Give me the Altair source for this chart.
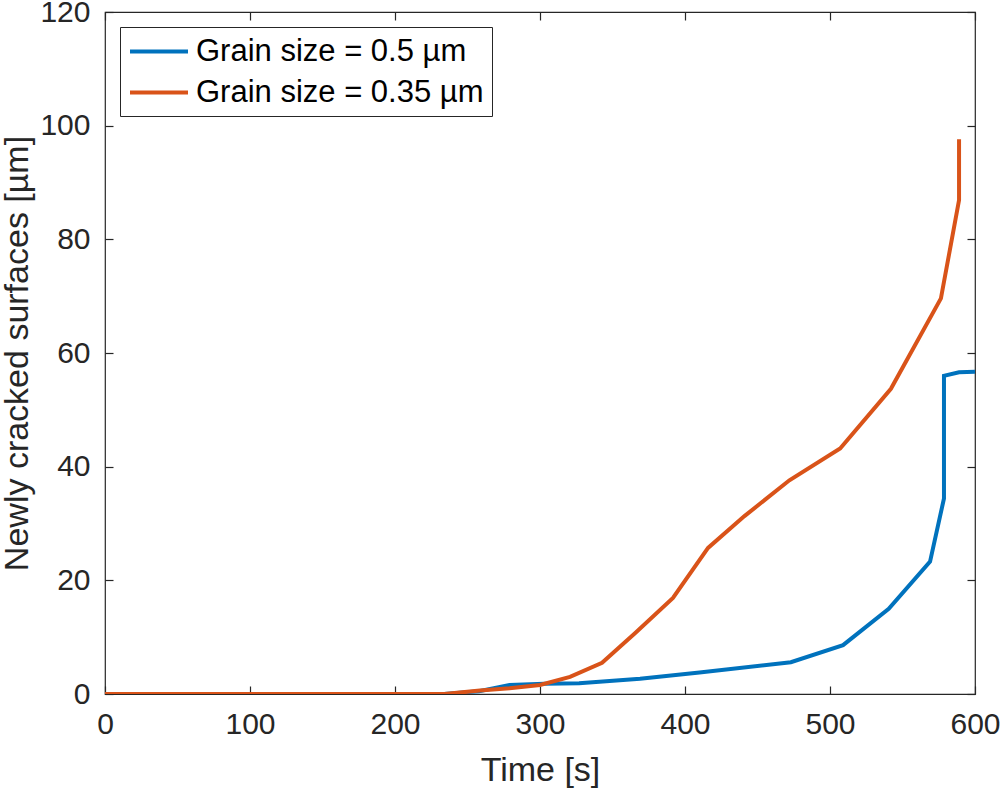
import altair as alt
import pandas as pd

# Grain size = 0.5 µm
t_05 = [0, 234, 258, 279, 303, 327, 369, 410, 473, 509, 540.5, 569, 578.6, 578.6, 589, 600]
v_05 = [0, 0, 0.5, 1.6, 1.8, 1.9, 2.7, 3.8, 5.6, 8.6, 15.0, 23.3, 34.4, 56.0, 56.6, 56.7]

# Grain size = 0.35 µm
t_035 = [0, 234, 258.6, 279, 300, 320.7, 342.8, 365.5, 391.7, 415.9, 441, 472, 507, 542, 576.5, 589, 589]
v_035 = [0, 0, 0.6, 1.0, 1.6, 3.0, 5.5, 10.7, 16.9, 25.7, 31.3, 37.6, 43.2, 53.7, 69.6, 86.9, 97.6]

series_names = ["Grain size = 0.5 µm", "Grain size = 0.35 µm"]
series_colors = ["#0072BD", "#D95319"]
x_ticks = [0, 100, 200, 300, 400, 500, 600]
y_ticks = [0, 20, 40, 60, 80, 100, 120]

rows = []
for name, ts, vs in [(series_names[0], t_05, v_05), (series_names[1], t_035, v_035)]:
    for i, (t, v) in enumerate(zip(ts, vs)):
        rows.append({"series": name, "t": t, "v": v, "idx": i})
df = pd.DataFrame(rows)

AX = "#262626"
FONT = "Liberation Sans"

x_scale = alt.Scale(domain=[0, 600], nice=False, zero=False)
y_scale = alt.Scale(domain=[0, 120], nice=False, zero=False)

# Legend sample: a horizontal stroke four half-widths long, starting at the
# left edge of the symbol slot
legend_stroke = "M-1,0L3,0"

lines = alt.Chart(df).mark_line(strokeWidth=4, clip=True).encode(
    x=alt.X("t:Q", scale=x_scale, title="Time [s]",
            axis=alt.Axis(orient="bottom", values=x_ticks, offset=-8, tickSize=8,
                          labelPadding=15, titlePadding=14, labelFlush=False,
                          domain=False, grid=False)),
    y=alt.Y("v:Q", scale=y_scale, title="Newly cracked surfaces [µm]",
            axis=alt.Axis(orient="left", values=y_ticks, offset=-8, tickSize=8,
                          labelPadding=15, titlePadding=5, labelFlush=False,
                          domain=False, grid=False)),
    color=alt.Color("series:N",
                    scale=alt.Scale(domain=series_names, range=series_colors),
                    sort=series_names,
                    legend=alt.Legend(title="", orient="top-left", offset=15,
                                      symbolType=legend_stroke, symbolSize=841,
                                      symbolStrokeWidth=4, labelFontSize=31,
                                      labelFont=FONT, labelColor="#000000",
                                      labelLimit=500, labelOffset=35,
                                      padding=8, rowPadding=9,
                                      strokeColor=AX, fillColor="#ffffff")),
    order=alt.Order("idx:Q"),
)

# Tick marks along the top and right edges of the box
frame_ticks = alt.Chart(df).mark_point(opacity=0).encode(
    x=alt.X("t:Q", scale=x_scale, title="",
            axis=alt.Axis(orient="top", values=x_ticks, offset=-8, tickSize=8,
                          labels=False, domain=False, grid=False)),
    y=alt.Y("v:Q", scale=y_scale, title="",
            axis=alt.Axis(orient="right", values=y_ticks, offset=-8, tickSize=8,
                          labels=False, domain=False, grid=False)),
)

chart = alt.layer(lines, frame_ticks).resolve_axis(
    x="independent", y="independent"
).properties(
    width=870, height=682,
    autosize=alt.AutoSizeParams(type="none"),
    padding={"left": 105, "top": 12, "right": 25, "bottom": 94},
    background="#ffffff",
).configure_view(
    stroke=AX, strokeWidth=1.2
).configure_axis(
    labelFont=FONT, titleFont=FONT, labelFontSize=30, titleFontSize=34,
    labelColor=AX, titleColor=AX, tickColor=AX, tickWidth=1.2,
    titleFontWeight="normal",
)

chart.save("out.html", embed_options={"renderer": "svg", "actions": False})
